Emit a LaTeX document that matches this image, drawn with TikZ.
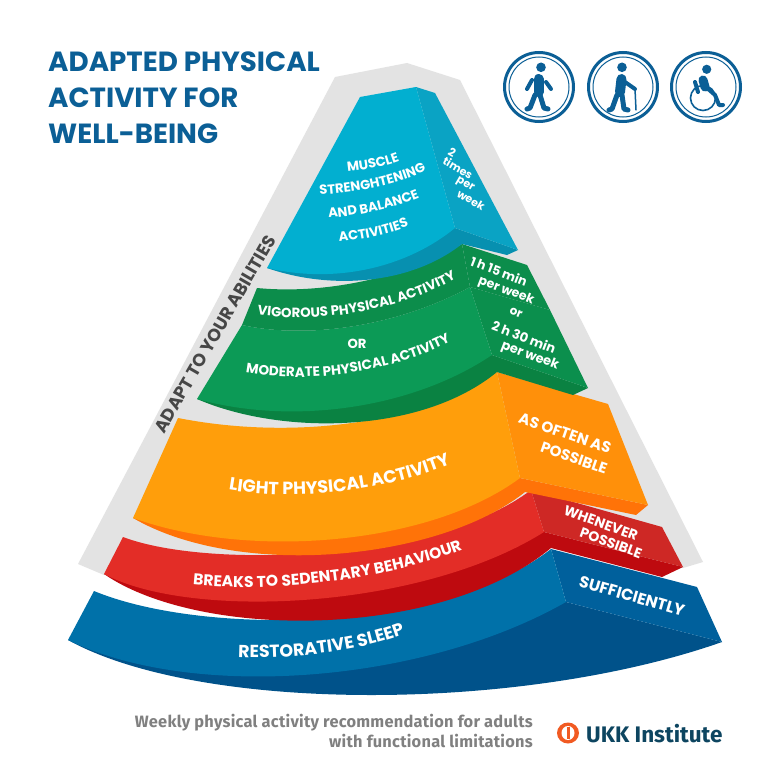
\documentclass[tikz,border=0pt]{standalone}
\usepackage{fontspec}
\setmainfont{Poppins}
\newfontfamily\firaf[LetterSpace=1.5]{Fira Sans}
\newfontfamily\firab{Fira Sans}
\usetikzlibrary{decorations.text}
\definecolor{bgrey}{HTML}{E3E3E3}
\definecolor{navy}{HTML}{0B5F96}
\definecolor{cyF}{HTML}{02AFD0}
\definecolor{cyS}{HTML}{0AA3C4}
\definecolor{cyD}{HTML}{0790B0}
\definecolor{grV}{HTML}{0C8D4B}
\definecolor{grM}{HTML}{0C9A56}
\definecolor{grS}{HTML}{0B8F4D}
\definecolor{grD}{HTML}{0A8242}
\definecolor{orF}{HTML}{FF9E0B}
\definecolor{orS}{HTML}{FF900A}
\definecolor{orD}{HTML}{FF7308}
\definecolor{reF}{HTML}{E32D27}
\definecolor{reS}{HTML}{CE2825}
\definecolor{reD}{HTML}{BE0A0F}
\definecolor{blF}{HTML}{0071A9}
\definecolor{blS}{HTML}{00609C}
\definecolor{blD}{HTML}{00528A}
\definecolor{icon}{HTML}{0B5F96}
\definecolor{logoO}{HTML}{F15A22}
\definecolor{logoT}{HTML}{0D4560}
\tikzset{
  sidetext/.style={text=white,font=\fontsize{#1}{14}\selectfont\bfseries,align=center,inner sep=0pt},
  limb/.style={draw=icon,line width=#1,line cap=round,line join=round},
  ringA/.style={draw=icon,line width=3pt},
  ringB/.style={draw=icon,line width=1pt},
  titletext/.style={anchor=west,text=navy,font=\fontsize{27.7}{28}\selectfont\bfseries,inner sep=0pt},
  foottext/.style={anchor=east,text=black!50,font=\firaf\fontsize{16.4}{17}\selectfont\bfseries,inner sep=0pt}
}
\newcommand{\curvetext}[3]{\path[decorate,decoration={text along path,text align=center,
   text color=white,text={|\fontsize{#1}{#1}\selectfont\bfseries|#2}}] #3;}
\begin{document}
\begin{tikzpicture}[x=1pt,y=-1pt]
\useasboundingbox (0,0) rectangle (768,768);
\fill[white] (0,0) rectangle (768,768);
% grey back
\fill[bgrey] (335,77) -- (407,63) -- (460,80) -- (703,562) -- (683,568) -- (540,540) -- (104,575) -- (78,564) -- cycle;
% sleep
\fill[blD] (68,640) .. controls (200,713) and (520,713) .. (722,642) -- (566,602) -- cycle;
\fill[blS] (551,549) -- (697,587) -- (722,642) -- (566,602) -- cycle;
\fill[blF] (94,591) .. controls (200,635) and (440,635) .. (551,549) -- (566,602) .. controls (420,685) and (190,700) .. (68,640) -- cycle;
% red
\fill[reD] (104,574) .. controls (200,640) and (440,640) .. (551,548) -- (662,577) -- (683,567) -- (544,532) -- cycle;
\fill[reS] (531,490) -- (662,527) -- (683,567) -- (544,532) -- cycle;
\fill[reF] (123,537) .. controls (210,570) and (440,560) .. (531,490) -- (544,532) .. controls (420,610) and (190,620) .. (104,574) -- cycle;
% orange
\fill[orD] (133,518) .. controls (240,580) and (440,560) .. (525,492) -- (636,515) -- (648,505) -- (520,478) -- cycle;
\fill[orS] (497,372) -- (608,404) -- (648,505) -- (520,478) -- cycle;
\fill[orF] (178,418) .. controls (290,440) and (420,425) .. (497,372) -- (520,478) .. controls (430,545) and (250,560) .. (133,518) -- cycle;
% green
\fill[grD] (197,399) .. controls (280,435) and (420,435) .. (497,372) -- (573,395) -- (588,388) -- (492,355) -- cycle;
\fill[grS] (470,287) -- (550,310) -- (588,388) -- (492,355) -- cycle;
\fill[grV] (462,244) -- (527,265) -- (550,310) -- (470,287) -- cycle;
\fill[grM] (242,325) .. controls (310,340) and (400,325) .. (470,287) -- (492,355) .. controls (410,410) and (290,425) .. (197,399) -- cycle;
\fill[grV] (257,288) .. controls (330,295) and (410,275) .. (462,244) -- (470,287) .. controls (400,325) and (310,340) .. (242,325) -- cycle;
% cyan
\fill[cyD] (267,268) .. controls (330,290) and (410,285) .. (462,244) -- (507,255) -- (518,250) -- (455,228) -- cycle;
\fill[cyS] (416,87) -- (435,93) -- (518,250) -- (455,228) -- cycle;
\fill[cyF] (360,97) -- (416,87) -- (455,228) .. controls (410,265) and (340,285) .. (267,268) -- cycle;
% curved labels
\curvetext{13.2}{MUSCLE}{(345,172) .. controls (365,170) and (385,167) .. (402,160)}
\curvetext{13.2}{STRENGHTENING}{(318,195) .. controls (355,193) and (395,186) .. (428,170)}
\curvetext{13.2}{AND BALANCE}{(327,218) .. controls (355,216) and (390,210) .. (421,197)}
\curvetext{13.2}{ACTIVITIES}{(337,242) .. controls (360,240) and (388,235) .. (411,225)}
\curvetext{13.4}{VIGOROUS PHYSICAL ACTIVITY}{(254,314) .. controls (320,325) and (400,310) .. (459,277)}
\curvetext{13.6}{MODERATE PHYSICAL ACTIVITY}{(241,372) .. controls (310,385) and (395,372) .. (455,339)}
\curvetext{17.6}{LIGHT PHYSICAL ACTIVITY}{(224,489) .. controls (300,503) and (390,490) .. (455,462)}
\curvetext{15.6}{BREAKS TO SEDENTARY BEHAVIOUR}{(186,584) .. controls (270,594) and (390,580) .. (469,547)}
\curvetext{17.4}{RESTORATIVE SLEEP}{(233,657) .. controls (290,660) and (360,652) .. (410,632)}
\node[sidetext=13.2] (orlabel) at (357,344) {OR};
% side labels
\node[sidetext=11.5,rotate=-30] (twoA) at (452,152) {2};
\node[sidetext=11,rotate=-30] (twoB) at (458,168) {times};
\node[sidetext=11,rotate=-30] (twoC) at (465,185) {per};
\node[sidetext=11,rotate=-30] (twoD) at (471,200) {week};
\node[sidetext=12.6,rotate=-21] (vigA) at (499,271) {1 h 15 min};
\node[sidetext=12.6,rotate=-21] (vigB) at (506,291) {per week};
\node[sidetext=12,rotate=-21] (vigC) at (516,313) {or};
\node[sidetext=13,rotate=-21] (modA) at (524,337) {2 h 30 min};
\node[sidetext=13,rotate=-21] (modB) at (530,356) {per week};
\node[sidetext=15.2,rotate=-19] (ligA) at (565,433) {AS OFTEN AS};
\node[sidetext=15,rotate=-19] (ligB) at (574,458) {POSSIBLE};
\node[sidetext=14,rotate=-20] (redA) at (601,523) {WHENEVER};
\node[sidetext=14,rotate=-20] (redB) at (611,543) {POSSIBLE};
\node[sidetext=16,rotate=-16] (sleepA) at (632,596) {SUFFICIENTLY};
% left label
\node[text=black!72,font=\fontsize{17.6}{18}\selectfont\bfseries,rotate=60,inner sep=0pt] (adapt) at (215,334) {ADAPT TO YOUR ABILITIES};
% title
\node[titletext] (titleA) at (48,62) {ADAPTED PHYSICAL};
\node[titletext] (titleB) at (48,98) {ACTIVITY FOR};
\node[titletext] (titleC) at (48,134) {WELL-BEING};
% icons
\foreach \cx in {539,623,706}{
  \draw[ringA] (\cx,87) circle (34.5);
  \draw[ringB] (\cx,87) circle (30);
}
% walker
\fill[icon] (541,67.3) circle (4.8);
\draw[limb=10pt] (538.5,79) -- (538.5,92);
\draw[limb=4pt] (532,80) -- (527,89);
\draw[limb=4pt] (546,82) -- (551,89);
\draw[limb=5pt] (535,95) -- (530,108) -- (527,109);
\draw[limb=5pt] (540,95) -- (544,108) -- (548,109);
% cane
\fill[icon] (622,67.3) circle (4.8);
\draw[limb=10pt] (621.5,79) -- (620,92);
\draw[limb=4pt] (625,82) -- (635,89);
\draw[limb=1.5pt] (635,89) -- (636,110);
\draw[limb=5pt] (617,95) -- (612,109) -- (609,110);
\draw[limb=5pt] (622,95) -- (624,109) -- (628,110);
% wheelchair
\fill[icon] (706.7,69.3) circle (4.6);
\draw[limb=9pt] (703,80) -- (705,87);
\draw[limb=4pt] (695,82) -- (698,92);
\draw[limb=1.6pt] (703,98) circle (12.5);
\draw[limb=4pt] (707,88) -- (715,95) -- (719,105) -- (723,105);
% footer
\node[foottext] (footA) at (533,723) {Weekly physical activity recommendation for adults};
\node[foottext] (footB) at (533,741) {with functional limitations};
% logo
\fill[logoO] (568,733) ellipse (11 and 10.5);
\fill[white] (568,733) ellipse (6.5 and 7);
\fill[logoO] (566.5,727) rectangle (569.5,739);
\node[anchor=west,text=logoT,font=\firab\fontsize{22.5}{23}\selectfont\bfseries,inner sep=0pt] (logoTxt) at (586,734) {UKK Institute};
\end{tikzpicture}
\end{document}
